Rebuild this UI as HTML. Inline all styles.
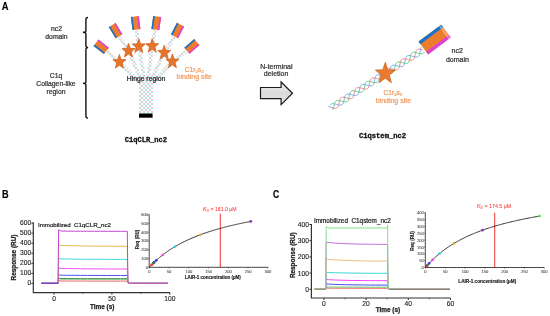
<!DOCTYPE html>
<html><head><meta charset="utf-8"><title>Figure</title>
<style>html,body{margin:0;padding:0;background:#fff;} body{width:550px;height:316px;overflow:hidden;} svg{display:block;filter:blur(0.3px);}</style>
</head><body>
<svg width="550" height="316" viewBox="0 0 550 316">
<text x="0" y="0" font-size="10.4" text-anchor="start" font-weight="bold" fill="#000" stroke="#000" stroke-width="0.15" font-family='"Liberation Sans", Arial, sans-serif' transform="translate(1.7,9.8) scale(0.9,1)">A</text>
<text x="56.5" y="30.9" font-size="6.8" text-anchor="middle" font-weight="normal" fill="#333" stroke="#333" stroke-width="0.22" font-family='"Liberation Sans", Arial, sans-serif' >nc2</text>
<text x="56.5" y="38.9" font-size="6.8" text-anchor="middle" font-weight="normal" fill="#333" stroke="#333" stroke-width="0.22" font-family='"Liberation Sans", Arial, sans-serif' >domain</text>
<text x="56" y="77.8" font-size="6.8" text-anchor="middle" font-weight="normal" fill="#333" stroke="#333" stroke-width="0.22" font-family='"Liberation Sans", Arial, sans-serif' >C1q</text>
<text x="56" y="86.1" font-size="6.8" text-anchor="middle" font-weight="normal" fill="#333" stroke="#333" stroke-width="0.22" font-family='"Liberation Sans", Arial, sans-serif' >Collagen-like</text>
<text x="56" y="94.4" font-size="6.8" text-anchor="middle" font-weight="normal" fill="#333" stroke="#333" stroke-width="0.22" font-family='"Liberation Sans", Arial, sans-serif' >region</text>
<path d="M88,17.5 Q85.9,17.5 85.9,19.5 L85.9,31 Q85.9,32.3 82.9,32.3 Q85.9,32.3 85.9,33.6 L85.9,45.6 Q85.9,47.6 88.1,47.6 Q85.9,47.6 85.9,49.6 L85.9,82.1 Q85.9,83.4 83.0,83.4 Q85.9,83.4 85.9,84.7 L85.9,116 Q85.9,118.1 88,118.1" fill="none" stroke="#111" stroke-width="1.4"/>
<defs>
<pattern id="col" width="4" height="4" patternUnits="userSpaceOnUse">
<rect width="4" height="4" fill="#f7fcfc"/>
<path d="M-1,-1 L5,5 M-1,3 L1,5 M3,-1 L5,1" stroke="#9cdde2" stroke-width="0.8"/>
<path d="M5,-1 L-1,5 M1,-1 L-1,1 M5,3 L3,5" stroke="#f4b4b4" stroke-width="0.7"/>
</pattern>
<linearGradient id="arrg" x1="0" y1="0" x2="0" y2="1">
<stop offset="0" stop-color="#f4f4f4"/><stop offset="0.5" stop-color="#d9d9d9"/><stop offset="1" stop-color="#ececec"/>
</linearGradient>
</defs>
<path d="M106.3,50.8 L119.4,62.0 L141.0,84 L141.0,113" fill="none" stroke="url(#col)" stroke-width="3.6" stroke-linecap="butt" stroke-linejoin="round"/>
<path d="M118.9,36.2 L128.5,50.9 L143.1,84 L143.1,113" fill="none" stroke="url(#col)" stroke-width="3.6" stroke-linecap="butt" stroke-linejoin="round"/>
<path d="M136.4,29.5 L138.8,46.4 L145.2,84 L145.2,113" fill="none" stroke="url(#col)" stroke-width="3.6" stroke-linecap="butt" stroke-linejoin="round"/>
<path d="M155.3,29.5 L152.2,46.1 L147.3,84 L147.3,113" fill="none" stroke="url(#col)" stroke-width="3.6" stroke-linecap="butt" stroke-linejoin="round"/>
<path d="M174.5,36.3 L164.2,52.8 L149.4,84 L149.4,113" fill="none" stroke="url(#col)" stroke-width="3.6" stroke-linecap="butt" stroke-linejoin="round"/>
<path d="M187.0,50.7 L172.4,61.6 L151.5,84 L151.5,113" fill="none" stroke="url(#col)" stroke-width="3.6" stroke-linecap="butt" stroke-linejoin="round"/>
<rect x="139.2" y="84" width="13.6" height="29.5" fill="url(#col)"/>
<rect x="139" y="113.5" width="13.6" height="4.2" fill="#000"/>
<g transform="translate(101.2,46.8) rotate(-52)"><rect x="-4" y="-6.6" width="8" height="13.2" fill="#EE7D2B"/><rect x="-4" y="-6.6" width="1.7" height="13.2" fill="#1A73C9"/><rect x="2.4" y="-6.6" width="1.6" height="13.2" fill="#E040D8"/></g>
<g transform="translate(115.6,30.65) rotate(-31)"><rect x="-4" y="-6.6" width="8" height="13.2" fill="#EE7D2B"/><rect x="-4" y="-6.6" width="1.7" height="13.2" fill="#1A73C9"/><rect x="2.4" y="-6.6" width="1.6" height="13.2" fill="#E040D8"/></g>
<g transform="translate(135.65,23.0) rotate(-7)"><rect x="-4" y="-6.6" width="8" height="13.2" fill="#EE7D2B"/><rect x="-4" y="-6.6" width="1.7" height="13.2" fill="#1A73C9"/><rect x="2.4" y="-6.6" width="1.6" height="13.2" fill="#E040D8"/></g>
<g transform="translate(156.25,23.1) rotate(8)"><rect x="-4" y="-6.6" width="8" height="13.2" fill="#EE7D2B"/><rect x="-4" y="-6.6" width="1.7" height="13.2" fill="#1A73C9"/><rect x="2.4" y="-6.6" width="1.6" height="13.2" fill="#E040D8"/></g>
<g transform="translate(177.5,30.5) rotate(27)"><rect x="-4" y="-6.6" width="8" height="13.2" fill="#EE7D2B"/><rect x="-4" y="-6.6" width="1.7" height="13.2" fill="#1A73C9"/><rect x="2.4" y="-6.6" width="1.6" height="13.2" fill="#E040D8"/></g>
<g transform="translate(191.9,46.4) rotate(49)"><rect x="-4" y="-6.6" width="8" height="13.2" fill="#EE7D2B"/><rect x="-4" y="-6.6" width="1.7" height="13.2" fill="#1A73C9"/><rect x="2.4" y="-6.6" width="1.6" height="13.2" fill="#E040D8"/></g>
<polygon points="0.00,-7.60 1.88,-2.58 7.23,-2.35 3.04,0.99 4.47,6.15 0.00,3.19 -4.47,6.15 -3.04,0.99 -7.23,-2.35 -1.88,-2.58" fill="#E8732A" stroke="#C55A11" stroke-width="0.7" stroke-linejoin="miter" transform="translate(119.4,62) scale(0.9,1)"/>
<polygon points="0.00,-7.60 1.88,-2.58 7.23,-2.35 3.04,0.99 4.47,6.15 0.00,3.19 -4.47,6.15 -3.04,0.99 -7.23,-2.35 -1.88,-2.58" fill="#E8732A" stroke="#C55A11" stroke-width="0.7" stroke-linejoin="miter" transform="translate(128.5,50.9) scale(0.9,1)"/>
<polygon points="0.00,-7.60 1.88,-2.58 7.23,-2.35 3.04,0.99 4.47,6.15 0.00,3.19 -4.47,6.15 -3.04,0.99 -7.23,-2.35 -1.88,-2.58" fill="#E8732A" stroke="#C55A11" stroke-width="0.7" stroke-linejoin="miter" transform="translate(138.8,46.4) scale(0.9,1)"/>
<polygon points="0.00,-7.60 1.88,-2.58 7.23,-2.35 3.04,0.99 4.47,6.15 0.00,3.19 -4.47,6.15 -3.04,0.99 -7.23,-2.35 -1.88,-2.58" fill="#E8732A" stroke="#C55A11" stroke-width="0.7" stroke-linejoin="miter" transform="translate(152.2,46.1) scale(0.9,1)"/>
<polygon points="0.00,-7.60 1.88,-2.58 7.23,-2.35 3.04,0.99 4.47,6.15 0.00,3.19 -4.47,6.15 -3.04,0.99 -7.23,-2.35 -1.88,-2.58" fill="#E8732A" stroke="#C55A11" stroke-width="0.7" stroke-linejoin="miter" transform="translate(164.2,52.8) scale(0.9,1)"/>
<polygon points="0.00,-7.60 1.88,-2.58 7.23,-2.35 3.04,0.99 4.47,6.15 0.00,3.19 -4.47,6.15 -3.04,0.99 -7.23,-2.35 -1.88,-2.58" fill="#E8732A" stroke="#C55A11" stroke-width="0.7" stroke-linejoin="miter" transform="translate(172.4,61.6) scale(0.9,1)"/>
<text x="146.0" y="80.8" font-size="6.8" text-anchor="middle" font-weight="normal" fill="#222" stroke="#222" stroke-width="0.22" font-family='"Liberation Sans", Arial, sans-serif' >Hinge region</text>
<text x="194.2" y="71.9" font-size="6.6" text-anchor="middle" font-weight="normal" fill="#F09B5E" stroke="#F09B5E" stroke-width="0.22" font-family='"Liberation Sans", Arial, sans-serif' >C1r<tspan font-size="4.3" dy="0.9">2</tspan><tspan dy="-0.9">s</tspan><tspan font-size="4.3" dy="0.9">2</tspan></text>
<text x="194.2" y="79.4" font-size="7" text-anchor="middle" font-weight="normal" fill="#F09B5E" stroke="#F09B5E" stroke-width="0.22" font-family='"Liberation Sans", Arial, sans-serif' >binding site</text>
<text x="145.9" y="142.1" font-size="7.05" text-anchor="middle" font-weight="bold" fill="#111" stroke="#111" stroke-width="0.3" font-family='"Liberation Mono", monospace' >C1qCLR_nc2</text>
<text x="276.4" y="68.5" font-size="7.0" text-anchor="middle" font-weight="normal" fill="#333" stroke="#333" stroke-width="0.22" font-family='"Liberation Sans", Arial, sans-serif' >N-terminal</text>
<text x="276.1" y="75.8" font-size="7.0" text-anchor="middle" font-weight="normal" fill="#333" stroke="#333" stroke-width="0.22" font-family='"Liberation Sans", Arial, sans-serif' >deletion</text>
<path d="M260.5,87.5 L281.1,87.5 L281.1,82 L292.5,93.2 L281.1,104.6 L281.1,98.7 L260.5,98.7 Z" fill="url(#arrg)" stroke="#1a1a1a" stroke-width="1.2" stroke-linejoin="miter"/>
<polyline points="331.50,107.60 332.15,107.78 332.79,107.96 333.42,108.11 334.03,108.23 334.62,108.31 335.17,108.34 335.70,108.32 336.18,108.24 336.62,108.10 337.02,107.89 337.38,107.62 337.70,107.27 337.98,106.87 338.22,106.40 338.42,105.88 338.60,105.32 338.75,104.71 338.88,104.07 339.00,103.42 339.11,102.75 339.22,102.09 339.34,101.43 339.48,100.80 339.63,100.20 339.81,99.64 340.02,99.12 340.26,98.66 340.54,98.26 340.86,97.93 341.23,97.66 341.63,97.46 342.08,97.32 342.57,97.25 343.09,97.23 343.65,97.27 344.24,97.36 344.85,97.48 345.48,97.64 346.13,97.81 346.78,97.99 347.43,98.18 348.07,98.35 348.70,98.50 349.31,98.61 349.89,98.69 350.44,98.72 350.96,98.69 351.44,98.61 351.88,98.46 352.27,98.24 352.63,97.96 352.94,97.61 353.21,97.20 353.45,96.72 353.65,96.20 353.82,95.63 353.97,95.02 354.10,94.38 354.22,93.72 354.33,93.06 354.45,92.39 354.57,91.74 354.70,91.11 354.86,90.51 355.04,89.96 355.25,89.45 355.50,88.99 355.78,88.60 356.11,88.27 356.48,88.01 356.89,87.81 357.34,87.68 357.83,87.62 358.36,87.61 358.92,87.65 359.51,87.74 360.13,87.87 360.76,88.03 361.41,88.20 362.06,88.39 362.70,88.57 363.35,88.74 363.97,88.88 364.58,89.00 365.16,89.07 365.71,89.09 366.22,89.06 366.70,88.97 367.13,88.81 367.52,88.59 367.87,88.30 368.18,87.94 368.45,87.52 368.68,87.05 368.88,86.52 369.05,85.94 369.20,85.33 369.33,84.69 369.44,84.03 369.56,83.36 369.67,82.70 369.79,82.05 369.93,81.42 370.09,80.83 370.27,80.28 370.49,79.77 370.74,79.33 371.03,78.94 371.36,78.62 371.73,78.36 372.14,78.17 372.60,78.05 373.09,77.99 373.63,77.99 374.19,78.04 374.79,78.13 375.40,78.26 376.04,78.42 376.68,78.60 377.33,78.78 377.98,78.96 378.62,79.13 379.25,79.27 379.85,79.38 380.43,79.45 380.97,79.47 381.48,79.43 381.95,79.33 382.38,79.17 382.77,78.94 383.12,78.64 383.42,78.28 383.69,77.85 383.91,77.37 384.11,76.84 384.28,76.26 384.42,75.64 384.55,75.00 384.67,74.34 384.78,73.67 384.89,73.01 385.02,72.36 385.15,71.74 385.31,71.14 385.50,70.60 385.72,70.10 385.98,69.66 386.27,69.28 386.60,68.96 386.98,68.71 387.40,68.53 387.86,68.41 388.36,68.36 388.89,68.36 389.46,68.42 390.06,68.52 390.68,68.65 391.31,68.81 391.96,68.99 392.61,69.18 393.26,69.36 393.90,69.52 394.52,69.66 395.12,69.77 395.69,69.83 396.24,69.84 396.74,69.80 397.21,69.69 397.64,69.52 398.02,69.29 398.36,68.98 398.66,68.61 398.92,68.18 399.15,67.69 399.34,67.15 399.50,66.57 399.65,65.95 399.77,65.30 399.89,64.64 400.00,63.98 400.11,63.31 400.24,62.67 400.38,62.05 400.54,61.46 400.73,60.92 400.96,60.43 401.21,59.99 401.51,59.62 401.85,59.31 402.23,59.07 402.65,58.89 403.12,58.78 403.62,58.73 404.16,58.74 404.73,58.80 405.33,58.91 405.95,59.04 406.59,59.21 407.24,59.39 407.89,59.57 408.54,59.75 409.17,59.91 409.79,60.05 410.39,60.15 410.96,60.21 411.50,60.22 412.00,60.17 412.47,60.05 412.89,59.88 413.27,59.63 413.60,59.32 413.90,58.94 414.16,58.51 414.38,58.01 414.57,57.47 414.73,56.88 414.87,56.26 414.99,55.61 415.11,54.95 415.22,54.28 415.34,53.62 415.46,52.98 415.61,52.36 415.77,51.78 415.97,51.24 416.19,50.75 416.45,50.32 416.76,49.96 417.10,49.66 417.48,49.42 417.91,49.25 418.38,49.15 418.89,49.11 419.43,49.12 420.01,49.19 420.61,49.29 421.23,49.43 421.87,49.60 422.52,49.78 423.17,49.96" fill="none" stroke="#F07A7A" stroke-width="1.0"/>
<polyline points="332.98,109.94 333.21,109.46 333.41,108.93 333.57,108.35 333.72,107.73 333.85,107.09 333.96,106.43 334.07,105.76 334.19,105.10 334.31,104.45 334.45,103.83 334.61,103.24 334.80,102.69 335.02,102.19 335.27,101.75 335.56,101.37 335.90,101.05 336.27,100.80 336.69,100.62 337.15,100.50 337.65,100.44 338.19,100.45 338.75,100.50 339.35,100.60 339.97,100.73 340.61,100.90 341.25,101.07 341.90,101.26 342.55,101.44 343.19,101.60 343.81,101.74 344.41,101.85 344.99,101.91 345.53,101.93 346.04,101.88 346.50,101.78 346.93,101.61 347.31,101.37 347.66,101.07 347.96,100.70 348.22,100.27 348.44,99.78 348.64,99.24 348.80,98.66 348.94,98.04 349.07,97.40 349.18,96.73 349.30,96.07 349.41,95.41 349.54,94.76 349.68,94.14 349.84,93.55 350.03,93.01 350.25,92.51 350.51,92.08 350.81,91.70 351.14,91.39 351.53,91.15 351.95,90.98 352.41,90.87 352.91,90.82 353.45,90.83 354.03,90.88 354.62,90.99 355.25,91.13 355.88,91.29 356.53,91.47 357.18,91.65 357.83,91.83 358.46,91.99 359.09,92.13 359.68,92.23 360.25,92.29 360.79,92.30 361.30,92.25 361.76,92.14 362.18,91.96 362.56,91.72 362.90,91.41 363.20,91.03 363.45,90.60 363.67,90.10 363.86,89.56 364.03,88.97 364.17,88.35 364.29,87.70 364.41,87.04 364.52,86.37 364.63,85.71 364.76,85.07 364.90,84.45 365.07,83.87 365.26,83.33 365.49,82.84 365.75,82.41 366.05,82.04 366.39,81.74 366.78,81.51 367.20,81.34 367.67,81.23 368.18,81.19 368.72,81.20 369.30,81.27 369.90,81.38 370.52,81.52 371.16,81.68 371.81,81.86 372.46,82.05 373.10,82.22 373.74,82.38 374.36,82.52 374.95,82.62 375.52,82.67 376.06,82.67 376.56,82.62 377.02,82.50 377.43,82.31 377.81,82.06 378.14,81.75 378.43,81.37 378.69,80.92 378.91,80.42 379.09,79.87 379.25,79.28 379.39,78.66 379.51,78.01 379.63,77.35 379.74,76.68 379.86,76.02 379.98,75.38 380.13,74.76 380.30,74.18 380.49,73.65 380.72,73.17 380.99,72.75 381.29,72.38 381.64,72.09 382.03,71.86 382.46,71.70 382.93,71.60 383.44,71.56 383.99,71.58 384.57,71.65 385.17,71.76 385.80,71.91 386.44,72.07 387.09,72.26 387.74,72.44 388.38,72.62 389.02,72.77 389.63,72.91 390.23,73.00 390.79,73.05 391.32,73.04 391.82,72.98 392.27,72.86 392.68,72.67 393.06,72.41 393.38,72.09 393.67,71.70 393.92,71.25 394.14,70.74 394.32,70.19 394.48,69.60 394.61,68.97 394.74,68.32 394.85,67.65 394.96,66.99 395.08,66.33 395.21,65.69 395.36,65.08 395.53,64.50 395.73,63.97 395.96,63.50 396.23,63.08 396.54,62.73 396.89,62.44 397.28,62.22 397.72,62.06 398.20,61.97 398.71,61.94 399.26,61.96 399.84,62.04 400.45,62.15 401.07,62.30 401.71,62.47 402.36,62.65 403.01,62.83 403.66,63.01 404.29,63.16 404.91,63.29 405.50,63.38 406.06,63.42 406.59,63.42 407.08,63.35 407.53,63.22 407.94,63.02 408.30,62.75 408.63,62.42 408.91,62.03 409.16,61.57 409.37,61.06 409.55,60.51 409.70,59.91 409.84,59.28 409.96,58.62 410.07,57.96 410.19,57.29 410.30,56.64 410.43,56.00 410.58,55.39 410.76,54.82 410.96,54.30 411.20,53.83 411.47,53.42 411.78,53.07 412.14,52.79 412.54,52.57 412.98,52.42 413.46,52.34 413.98,52.31 414.53,52.34 415.11,52.42 415.72,52.54 416.35,52.69 416.99,52.86 417.64,53.04 418.29,53.23 418.93,53.40 419.57,53.55 420.18,53.68 420.77,53.76 421.32,53.80 421.85,53.79 422.33,53.71 422.78,53.57 423.19,53.37 423.55,53.10 423.87,52.76 424.15,52.36 424.39,51.90" fill="none" stroke="#5EC47E" stroke-width="1.0"/>
<polyline points="330.02,105.26 330.28,104.83 330.59,104.47 330.93,104.18 331.32,103.95 331.75,103.78 332.23,103.68 332.74,103.65 333.28,103.67 333.86,103.73 334.46,103.85 335.09,103.99 335.73,104.16 336.38,104.34 337.03,104.52 337.67,104.70 338.31,104.86 338.92,104.99 339.52,105.08 340.08,105.13 340.61,105.13 341.11,105.07 341.56,104.94 341.98,104.75 342.35,104.50 342.68,104.17 342.97,103.79 343.22,103.34 343.43,102.83 343.62,102.28 343.77,101.69 343.91,101.06 344.03,100.41 344.15,99.74 344.26,99.08 344.38,98.42 344.51,97.78 344.65,97.17 344.82,96.59 345.02,96.06 345.25,95.59 345.52,95.17 345.83,94.81 346.18,94.52 346.58,94.30 347.01,94.15 347.49,94.05 348.00,94.02 348.55,94.05 349.13,94.12 349.74,94.23 350.36,94.38 351.00,94.55 351.65,94.73 352.30,94.91 352.95,95.09 353.58,95.25 354.20,95.37 354.79,95.46 355.35,95.51 355.88,95.50 356.37,95.43 356.82,95.30 357.23,95.10 357.60,94.84 357.92,94.51 358.21,94.12 358.45,93.66 358.66,93.15 358.85,92.60 359.00,92.00 359.14,91.37 359.26,90.71 359.37,90.05 359.48,89.38 359.60,88.73 359.73,88.09 359.88,87.48 360.05,86.91 360.25,86.39 360.49,85.92 360.76,85.50 361.08,85.16 361.43,84.87 361.83,84.66 362.27,84.51 362.75,84.42 363.27,84.40 363.82,84.43 364.40,84.50 365.01,84.62 365.64,84.77 366.28,84.94 366.93,85.12 367.58,85.31 368.23,85.48 368.86,85.64 369.47,85.76 370.06,85.85 370.62,85.88 371.14,85.87 371.63,85.80 372.07,85.66 372.48,85.46 372.84,85.18 373.16,84.85 373.44,84.45 373.69,83.99 373.89,83.47 374.07,82.91 374.23,82.31 374.36,81.68 374.48,81.02 374.59,80.36 374.70,79.69 374.82,79.03 374.96,78.40 375.11,77.79 375.28,77.23 375.49,76.71 375.73,76.24 376.01,75.84 376.32,75.50 376.68,75.22 377.08,75.01 377.53,74.87 378.01,74.79 378.53,74.77 379.09,74.81 379.68,74.89 380.29,75.01 380.92,75.16 381.56,75.34 382.21,75.52 382.86,75.70 383.50,75.87 384.13,76.03 384.74,76.15 385.33,76.23 385.88,76.26 386.40,76.24 386.89,76.16 387.33,76.02 387.73,75.81 388.09,75.53 388.40,75.18 388.68,74.78 388.92,74.31 389.13,73.79 389.30,73.22 389.45,72.62 389.58,71.98 389.70,71.33 389.81,70.66 389.93,70.00 390.05,69.34 390.18,68.71 390.33,68.11 390.51,67.55 390.72,67.03 390.97,66.57 391.25,66.18 391.57,65.84 391.93,65.57 392.34,65.37 392.79,65.23 393.27,65.16 393.80,65.15 394.36,65.19 394.95,65.28 395.56,65.40 396.19,65.56 396.84,65.73 397.49,65.91 398.14,66.10 398.78,66.27 399.41,66.41 400.01,66.53 400.60,66.61 401.15,66.64 401.67,66.61 402.14,66.52 402.58,66.37 402.98,66.15 403.33,65.87 403.65,65.52 403.92,65.11 404.15,64.64 404.36,64.11 404.53,63.54 404.68,62.93 404.81,62.29 404.92,61.63 405.04,60.97 405.15,60.30 405.27,59.65 405.41,59.02 405.56,58.42 405.74,57.87 405.96,57.36 406.20,56.91 406.49,56.51 406.82,56.19 407.18,55.92 407.59,55.73 408.05,55.60 408.54,55.53 409.07,55.53 409.63,55.57 410.22,55.66 410.84,55.79 411.47,55.95 412.12,56.12 412.77,56.31 413.41,56.49 414.05,56.66 414.68,56.80 415.29,56.92 415.87,56.99 416.41,57.01 416.93,56.98 417.40,56.89 417.84,56.73 418.23,56.50 418.58,56.21 418.89,55.86 419.15,55.44 419.39,54.96 419.58,54.43 419.75,53.85 419.90,53.24 420.03,52.60 420.15,51.94 420.26,51.27 420.37,50.61 420.49,49.96 420.63,49.33 420.79,48.74 420.97,48.19 421.19,47.68 421.44,47.24" fill="none" stroke="#6EA6E0" stroke-width="1.0"/>
<polyline points="333.5,108.2 330.5,106.9 328.4,106.4" fill="none" stroke="#7FB2E5" stroke-width="1"/>
<g transform="translate(434.6,39.6) rotate(-36.6)"><rect x="-14.1" y="-8" width="28.2" height="16" fill="#EE7D2B"/><rect x="-14.1" y="-8" width="28.2" height="3.2" fill="#1A73C9"/><rect x="-14.1" y="4.6" width="28.2" height="3.4" fill="#E040D8"/><rect x="11.4" y="-8" width="2.0" height="16" fill="#fff" opacity="0.35"/></g>
<polygon points="0.00,-11.30 2.72,-3.75 10.75,-3.49 4.41,1.43 6.64,9.14 0.00,4.63 -6.64,9.14 -4.41,1.43 -10.75,-3.49 -2.72,-3.75" fill="#EB7A2C" stroke="#C55A11" stroke-width="0.7" stroke-linejoin="miter" transform="translate(385.3,73.6) scale(0.92,1)"/>
<text x="392.9" y="94.7" font-size="6.6" text-anchor="middle" font-weight="normal" fill="#F09B5E" stroke="#F09B5E" stroke-width="0.22" font-family='"Liberation Sans", Arial, sans-serif' >C1r<tspan font-size="4.3" dy="0.9">2</tspan><tspan dy="-0.9">s</tspan><tspan font-size="4.3" dy="0.9">2</tspan></text>
<text x="393.4" y="102.5" font-size="7" text-anchor="middle" font-weight="normal" fill="#F09B5E" stroke="#F09B5E" stroke-width="0.22" font-family='"Liberation Sans", Arial, sans-serif' >binding site</text>
<text x="457.2" y="53.3" font-size="7.0" text-anchor="middle" font-weight="normal" fill="#333" stroke="#333" stroke-width="0.22" font-family='"Liberation Sans", Arial, sans-serif' >nc2</text>
<text x="457.4" y="61.6" font-size="7.0" text-anchor="middle" font-weight="normal" fill="#333" stroke="#333" stroke-width="0.22" font-family='"Liberation Sans", Arial, sans-serif' >domain</text>
<text x="382.5" y="138.2" font-size="7.15" text-anchor="middle" font-weight="bold" fill="#111" stroke="#111" stroke-width="0.3" font-family='"Liberation Mono", monospace' >C1qstem_nc2</text>
<text x="0" y="0" font-size="10.4" text-anchor="start" font-weight="bold" fill="#000" stroke="#000" stroke-width="0.15" font-family='"Liberation Sans", Arial, sans-serif' transform="translate(1.9,198.3) scale(0.88,1)">B</text>
<text x="0" y="0" font-size="10.4" text-anchor="start" font-weight="bold" fill="#000" stroke="#000" stroke-width="0.15" font-family='"Liberation Sans", Arial, sans-serif' transform="translate(273.0,198.3) scale(0.83,1)">C</text>
<path d="M33.3,222.3 L33.3,292.6 L170,292.6" fill="none" stroke="#333" stroke-width="1.2"/>
<line x1="31.299999999999997" y1="283.40" x2="33.3" y2="283.40" stroke="#333" stroke-width="1"/>
<text x="31.2" y="285.20" font-size="6.7" text-anchor="end" font-weight="normal" fill="#222" stroke="#222" stroke-width="0.12" font-family='"Liberation Sans", Arial, sans-serif' >0</text>
<line x1="31.299999999999997" y1="273.35" x2="33.3" y2="273.35" stroke="#333" stroke-width="1"/>
<text x="31.2" y="275.15" font-size="6.7" text-anchor="end" font-weight="normal" fill="#222" stroke="#222" stroke-width="0.12" font-family='"Liberation Sans", Arial, sans-serif' >100</text>
<line x1="31.299999999999997" y1="263.30" x2="33.3" y2="263.30" stroke="#333" stroke-width="1"/>
<text x="31.2" y="265.10" font-size="6.7" text-anchor="end" font-weight="normal" fill="#222" stroke="#222" stroke-width="0.12" font-family='"Liberation Sans", Arial, sans-serif' >200</text>
<line x1="31.299999999999997" y1="253.25" x2="33.3" y2="253.25" stroke="#333" stroke-width="1"/>
<text x="31.2" y="255.05" font-size="6.7" text-anchor="end" font-weight="normal" fill="#222" stroke="#222" stroke-width="0.12" font-family='"Liberation Sans", Arial, sans-serif' >300</text>
<line x1="31.299999999999997" y1="243.20" x2="33.3" y2="243.20" stroke="#333" stroke-width="1"/>
<text x="31.2" y="245.00" font-size="6.7" text-anchor="end" font-weight="normal" fill="#222" stroke="#222" stroke-width="0.12" font-family='"Liberation Sans", Arial, sans-serif' >400</text>
<line x1="31.299999999999997" y1="233.15" x2="33.3" y2="233.15" stroke="#333" stroke-width="1"/>
<text x="31.2" y="234.95" font-size="6.7" text-anchor="end" font-weight="normal" fill="#222" stroke="#222" stroke-width="0.12" font-family='"Liberation Sans", Arial, sans-serif' >500</text>
<line x1="31.299999999999997" y1="223.10" x2="33.3" y2="223.10" stroke="#333" stroke-width="1"/>
<text x="31.2" y="224.90" font-size="6.7" text-anchor="end" font-weight="normal" fill="#222" stroke="#222" stroke-width="0.12" font-family='"Liberation Sans", Arial, sans-serif' >600</text>
<line x1="54.00" y1="292.6" x2="54.00" y2="294.6" stroke="#333" stroke-width="1"/>
<line x1="111.90" y1="292.6" x2="111.90" y2="294.6" stroke="#333" stroke-width="1"/>
<line x1="169.80" y1="292.6" x2="169.80" y2="294.6" stroke="#333" stroke-width="1"/>
<line x1="82.95" y1="292.6" x2="82.95" y2="293.8" stroke="#333" stroke-width="0.8"/>
<line x1="140.85" y1="292.6" x2="140.85" y2="293.8" stroke="#333" stroke-width="0.8"/>
<text x="54.00" y="300.9" font-size="6.7" text-anchor="middle" font-weight="normal" fill="#222" stroke="#222" stroke-width="0.12" font-family='"Liberation Sans", Arial, sans-serif' >0</text>
<text x="111.90" y="300.9" font-size="6.7" text-anchor="middle" font-weight="normal" fill="#222" stroke="#222" stroke-width="0.12" font-family='"Liberation Sans", Arial, sans-serif' >50</text>
<text x="169.80" y="300.9" font-size="6.7" text-anchor="middle" font-weight="normal" fill="#222" stroke="#222" stroke-width="0.12" font-family='"Liberation Sans", Arial, sans-serif' >100</text>
<text x="102.2" y="309.4" font-size="6.4" text-anchor="middle" font-weight="bold" fill="#222" stroke="#222" stroke-width="0.25" font-family='"Liberation Sans", Arial, sans-serif' >Time (s)</text>
<text x="0" y="0" font-size="6.4" text-anchor="middle" font-weight="bold" fill="#222" stroke="#222" stroke-width="0.25" font-family='"Liberation Sans", Arial, sans-serif' transform="translate(15.9,257.5) rotate(-90)">Response (RU)</text>
<text x="38.0" y="227.2" font-size="6.13" text-anchor="start" font-weight="normal" fill="#222" stroke="#222" stroke-width="0.22" font-family='"Liberation Sans", Arial, sans-serif' >Immobilized&#160; C1qCLR_nc2</text>
<polyline points="41.40,283.30 58.10,283.30 58.60,280.40 60.90,281.00 67.54,281.03 74.18,281.05 80.82,281.06 87.46,281.07 94.10,281.08 100.74,281.09 107.38,281.09 114.02,281.10 120.66,281.10 127.30,281.10 127.90,282.50 130.10,283.30 167.80,283.30" fill="none" stroke="#F06464" stroke-width="1.0" stroke-linejoin="round"/>
<polyline points="41.40,283.30 58.10,283.30 58.60,278.70 60.90,279.30 67.54,279.33 74.18,279.35 80.82,279.36 87.46,279.37 94.10,279.38 100.74,279.39 107.38,279.39 114.02,279.40 120.66,279.40 127.30,279.40 127.90,282.50 130.10,283.30 167.80,283.30" fill="none" stroke="#92CC92" stroke-width="1.0" stroke-linejoin="round"/>
<polyline points="41.40,283.30 58.10,283.30 58.60,277.90 60.90,278.50 67.54,278.55 74.18,278.59 80.82,278.62 87.46,278.65 94.10,278.66 100.74,278.68 107.38,278.68 114.02,278.69 120.66,278.70 127.30,278.70 127.90,282.50 130.10,283.30 167.80,283.30" fill="none" stroke="#3F8F4F" stroke-width="1.0" stroke-linejoin="round"/>
<polyline points="41.40,283.30 58.10,283.30 58.60,274.60 60.90,275.20 67.54,275.28 74.18,275.34 80.82,275.39 87.46,275.42 94.10,275.45 100.74,275.46 107.38,275.48 114.02,275.49 120.66,275.49 127.30,275.50 127.90,282.50 130.10,283.30 167.80,283.30" fill="none" stroke="#5050F0" stroke-width="1.0" stroke-linejoin="round"/>
<polyline points="41.40,283.30 58.10,283.30 58.60,267.80 60.90,268.40 67.54,268.56 74.18,268.68 80.82,268.77 87.46,268.84 94.10,268.89 100.74,268.93 107.38,268.95 114.02,268.97 120.66,268.99 127.30,269.00 127.90,282.50 130.10,283.30 167.80,283.30" fill="none" stroke="#F050F0" stroke-width="1.0" stroke-linejoin="round"/>
<polyline points="41.40,283.30 58.10,283.30 58.60,258.30 60.90,258.90 67.54,259.04 74.18,259.14 80.82,259.21 87.46,259.27 94.10,259.31 100.74,259.34 107.38,259.36 114.02,259.38 120.66,259.39 127.30,259.40 127.90,282.50 130.10,283.30 167.80,283.30" fill="none" stroke="#40D8DE" stroke-width="1.0" stroke-linejoin="round"/>
<polyline points="41.40,283.30 58.10,283.30 58.60,244.80 60.90,245.40 67.54,245.65 74.18,245.83 80.82,245.96 87.46,246.06 94.10,246.14 100.74,246.19 107.38,246.23 114.02,246.26 120.66,246.28 127.30,246.30 127.90,282.50 130.10,283.30 167.80,283.30" fill="none" stroke="#E9B84A" stroke-width="1.0" stroke-linejoin="round"/>
<polyline points="41.40,283.30 58.10,283.30 58.60,229.80 60.90,231.10 67.54,231.15 74.18,231.19 80.82,231.22 87.46,231.25 94.10,231.26 100.74,231.28 107.38,231.28 114.02,231.29 120.66,231.30 127.30,231.30 127.90,282.50 130.10,283.30 167.80,283.30" fill="none" stroke="#C048D0" stroke-width="1.0" stroke-linejoin="round"/>
<polyline points="41.40,283.30 58.20,283.30" fill="none" stroke="#7A3FC4" stroke-width="1.1" stroke-linejoin="round"/>
<path d="M149.2,214.4 L149.2,267.3 L268.2,267.3" fill="none" stroke="#333" stroke-width="0.9"/>
<line x1="148" y1="267.30" x2="149.2" y2="267.30" stroke="#333" stroke-width="0.6"/>
<text x="148.1" y="268.80" font-size="4.1" text-anchor="end" font-weight="normal" fill="#555" stroke="#555" stroke-width="0.1" font-family='"Liberation Sans", Arial, sans-serif' >0</text>
<line x1="148" y1="258.53" x2="149.2" y2="258.53" stroke="#333" stroke-width="0.6"/>
<text x="148.1" y="260.03" font-size="4.1" text-anchor="end" font-weight="normal" fill="#555" stroke="#555" stroke-width="0.1" font-family='"Liberation Sans", Arial, sans-serif' >100</text>
<line x1="148" y1="249.76" x2="149.2" y2="249.76" stroke="#333" stroke-width="0.6"/>
<text x="148.1" y="251.26" font-size="4.1" text-anchor="end" font-weight="normal" fill="#555" stroke="#555" stroke-width="0.1" font-family='"Liberation Sans", Arial, sans-serif' >200</text>
<line x1="148" y1="240.99" x2="149.2" y2="240.99" stroke="#333" stroke-width="0.6"/>
<text x="148.1" y="242.49" font-size="4.1" text-anchor="end" font-weight="normal" fill="#555" stroke="#555" stroke-width="0.1" font-family='"Liberation Sans", Arial, sans-serif' >300</text>
<line x1="148" y1="232.22" x2="149.2" y2="232.22" stroke="#333" stroke-width="0.6"/>
<text x="148.1" y="233.72" font-size="4.1" text-anchor="end" font-weight="normal" fill="#555" stroke="#555" stroke-width="0.1" font-family='"Liberation Sans", Arial, sans-serif' >400</text>
<line x1="148" y1="223.45" x2="149.2" y2="223.45" stroke="#333" stroke-width="0.6"/>
<text x="148.1" y="224.95" font-size="4.1" text-anchor="end" font-weight="normal" fill="#555" stroke="#555" stroke-width="0.1" font-family='"Liberation Sans", Arial, sans-serif' >500</text>
<line x1="148" y1="214.68" x2="149.2" y2="214.68" stroke="#333" stroke-width="0.6"/>
<text x="148.1" y="216.18" font-size="4.1" text-anchor="end" font-weight="normal" fill="#555" stroke="#555" stroke-width="0.1" font-family='"Liberation Sans", Arial, sans-serif' >600</text>
<line x1="149.30" y1="267.3" x2="149.30" y2="268.5" stroke="#333" stroke-width="0.6"/>
<text x="149.30" y="272.8" font-size="4.1" text-anchor="middle" font-weight="normal" fill="#555" stroke="#555" stroke-width="0.1" font-family='"Liberation Sans", Arial, sans-serif' >0</text>
<line x1="169.05" y1="267.3" x2="169.05" y2="268.5" stroke="#333" stroke-width="0.6"/>
<text x="169.05" y="272.8" font-size="4.1" text-anchor="middle" font-weight="normal" fill="#555" stroke="#555" stroke-width="0.1" font-family='"Liberation Sans", Arial, sans-serif' >50</text>
<line x1="188.80" y1="267.3" x2="188.80" y2="268.5" stroke="#333" stroke-width="0.6"/>
<text x="188.80" y="272.8" font-size="4.1" text-anchor="middle" font-weight="normal" fill="#555" stroke="#555" stroke-width="0.1" font-family='"Liberation Sans", Arial, sans-serif' >100</text>
<line x1="208.55" y1="267.3" x2="208.55" y2="268.5" stroke="#333" stroke-width="0.6"/>
<text x="208.55" y="272.8" font-size="4.1" text-anchor="middle" font-weight="normal" fill="#555" stroke="#555" stroke-width="0.1" font-family='"Liberation Sans", Arial, sans-serif' >150</text>
<line x1="228.30" y1="267.3" x2="228.30" y2="268.5" stroke="#333" stroke-width="0.6"/>
<text x="228.30" y="272.8" font-size="4.1" text-anchor="middle" font-weight="normal" fill="#555" stroke="#555" stroke-width="0.1" font-family='"Liberation Sans", Arial, sans-serif' >200</text>
<line x1="248.05" y1="267.3" x2="248.05" y2="268.5" stroke="#333" stroke-width="0.6"/>
<text x="248.05" y="272.8" font-size="4.1" text-anchor="middle" font-weight="normal" fill="#555" stroke="#555" stroke-width="0.1" font-family='"Liberation Sans", Arial, sans-serif' >250</text>
<line x1="267.80" y1="267.3" x2="267.80" y2="268.5" stroke="#333" stroke-width="0.6"/>
<text x="267.80" y="272.8" font-size="4.1" text-anchor="middle" font-weight="normal" fill="#555" stroke="#555" stroke-width="0.1" font-family='"Liberation Sans", Arial, sans-serif' >300</text>
<line x1="159.18" y1="267.3" x2="159.18" y2="268.0" stroke="#333" stroke-width="0.5"/>
<line x1="178.93" y1="267.3" x2="178.93" y2="268.0" stroke="#333" stroke-width="0.5"/>
<line x1="198.68" y1="267.3" x2="198.68" y2="268.0" stroke="#333" stroke-width="0.5"/>
<line x1="218.43" y1="267.3" x2="218.43" y2="268.0" stroke="#333" stroke-width="0.5"/>
<line x1="238.18" y1="267.3" x2="238.18" y2="268.0" stroke="#333" stroke-width="0.5"/>
<line x1="257.93" y1="267.3" x2="257.93" y2="268.0" stroke="#333" stroke-width="0.5"/>
<text x="212.8" y="278.5" font-size="4.5" text-anchor="middle" font-weight="bold" fill="#222" stroke="#222" stroke-width="0.15" font-family='"Liberation Sans", Arial, sans-serif' >LAIR-1 concentration (µM)</text>
<text x="0" y="0" font-size="4.6" text-anchor="middle" font-weight="bold" fill="#222" stroke="#222" stroke-width="0.15" font-family='"Liberation Sans", Arial, sans-serif' transform="translate(139.1,239.5) rotate(-90)">Req (RU)</text>
<line x1="220.3" y1="213.7" x2="220.3" y2="267.3" stroke="#F03A3A" stroke-width="1.05"/>
<text x="219.8" y="210.7" font-size="5.15" text-anchor="middle" font-weight="normal" fill="#F03A3A" stroke="#F03A3A" stroke-width="0.05" font-family='"Liberation Sans", Arial, sans-serif' ><tspan font-style="italic">K</tspan><tspan font-size="3.5" dy="1.0">D</tspan><tspan dy="-1.0"> = 181.0 µM</tspan></text>
<polyline points="149.30,267.30 150.32,266.21 151.33,265.14 152.35,264.11 153.36,263.10 154.38,262.12 155.39,261.17 156.41,260.24 157.42,259.33 158.44,258.45 159.45,257.58 160.47,256.74 161.48,255.92 162.50,255.12 163.51,254.34 164.53,253.58 165.54,252.83 166.56,252.11 167.57,251.39 168.59,250.70 169.60,250.02 170.62,249.35 171.63,248.70 172.65,248.06 173.66,247.44 174.68,246.83 175.69,246.23 176.71,245.65 177.72,245.07 178.74,244.51 179.75,243.96 180.77,243.42 181.78,242.89 182.80,242.37 183.82,241.86 184.83,241.36 185.85,240.87 186.86,240.39 187.88,239.91 188.89,239.45 189.91,239.00 190.92,238.55 191.94,238.11 192.95,237.68 193.97,237.25 194.98,236.84 196.00,236.43 197.01,236.02 198.03,235.63 199.04,235.24 200.06,234.86 201.07,234.48 202.09,234.11 203.10,233.75 204.12,233.39 205.13,233.04 206.15,232.69 207.16,232.35 208.18,232.01 209.19,231.68 210.21,231.35 211.22,231.03 212.24,230.72 213.25,230.40 214.27,230.10 215.28,229.80 216.30,229.50 217.32,229.20 218.33,228.91 219.35,228.63 220.36,228.35 221.38,228.07 222.39,227.80 223.41,227.53 224.42,227.26 225.44,227.00 226.45,226.74 227.47,226.49 228.48,226.24 229.50,225.99 230.51,225.74 231.53,225.50 232.54,225.26 233.56,225.03 234.57,224.80 235.59,224.57 236.60,224.34 237.62,224.12 238.63,223.90 239.65,223.68 240.66,223.46 241.68,223.25 242.69,223.04 243.71,222.83 244.72,222.63 245.74,222.43 246.75,222.23 247.77,222.03 248.78,221.83 249.80,221.64 250.81,221.45" fill="none" stroke="#222" stroke-width="0.9" stroke-linejoin="round"/>
<circle cx="250.81" cy="221.45" r="1.4" fill="#8E2FC0"/>
<circle cx="200.26" cy="234.78" r="1.4" fill="#E8AA38"/>
<circle cx="174.98" cy="246.65" r="1.4" fill="#3DD6D6"/>
<circle cx="162.73" cy="254.94" r="1.4" fill="#F04AF0"/>
<circle cx="156.29" cy="260.34" r="1.4" fill="#3A3AF0"/>
<circle cx="154.04" cy="262.44" r="1.4" fill="#2530A8"/>
<circle cx="153.21" cy="263.25" r="1.4" fill="#2E8B3E"/>
<circle cx="151.67" cy="264.79" r="1.4" fill="#F03A3A"/>
<path d="M311.4,224.1 L311.4,298.0 L450.5,298.0" fill="none" stroke="#333" stroke-width="1.2"/>
<line x1="309.4" y1="289.30" x2="311.4" y2="289.30" stroke="#333" stroke-width="1"/>
<text x="308.9" y="291.70" font-size="6.7" text-anchor="end" font-weight="normal" fill="#222" stroke="#222" stroke-width="0.12" font-family='"Liberation Sans", Arial, sans-serif' >0</text>
<line x1="309.4" y1="273.10" x2="311.4" y2="273.10" stroke="#333" stroke-width="1"/>
<text x="308.9" y="275.50" font-size="6.7" text-anchor="end" font-weight="normal" fill="#222" stroke="#222" stroke-width="0.12" font-family='"Liberation Sans", Arial, sans-serif' >100</text>
<line x1="309.4" y1="256.90" x2="311.4" y2="256.90" stroke="#333" stroke-width="1"/>
<text x="308.9" y="259.30" font-size="6.7" text-anchor="end" font-weight="normal" fill="#222" stroke="#222" stroke-width="0.12" font-family='"Liberation Sans", Arial, sans-serif' >200</text>
<line x1="309.4" y1="240.70" x2="311.4" y2="240.70" stroke="#333" stroke-width="1"/>
<text x="308.9" y="243.10" font-size="6.7" text-anchor="end" font-weight="normal" fill="#222" stroke="#222" stroke-width="0.12" font-family='"Liberation Sans", Arial, sans-serif' >300</text>
<line x1="309.4" y1="224.50" x2="311.4" y2="224.50" stroke="#333" stroke-width="1"/>
<text x="308.9" y="226.90" font-size="6.7" text-anchor="end" font-weight="normal" fill="#222" stroke="#222" stroke-width="0.12" font-family='"Liberation Sans", Arial, sans-serif' >400</text>
<line x1="323.90" y1="298.0" x2="323.90" y2="300.0" stroke="#333" stroke-width="1"/>
<line x1="366.10" y1="298.0" x2="366.10" y2="300.0" stroke="#333" stroke-width="1"/>
<line x1="408.30" y1="298.0" x2="408.30" y2="300.0" stroke="#333" stroke-width="1"/>
<line x1="450.50" y1="298.0" x2="450.50" y2="300.0" stroke="#333" stroke-width="1"/>
<line x1="345.00" y1="298.0" x2="345.00" y2="299.2" stroke="#333" stroke-width="0.8"/>
<line x1="387.20" y1="298.0" x2="387.20" y2="299.2" stroke="#333" stroke-width="0.8"/>
<line x1="429.40" y1="298.0" x2="429.40" y2="299.2" stroke="#333" stroke-width="0.8"/>
<text x="323.90" y="305.7" font-size="6.7" text-anchor="middle" font-weight="normal" fill="#222" stroke="#222" stroke-width="0.12" font-family='"Liberation Sans", Arial, sans-serif' >0</text>
<text x="366.10" y="305.7" font-size="6.7" text-anchor="middle" font-weight="normal" fill="#222" stroke="#222" stroke-width="0.12" font-family='"Liberation Sans", Arial, sans-serif' >20</text>
<text x="408.30" y="305.7" font-size="6.7" text-anchor="middle" font-weight="normal" fill="#222" stroke="#222" stroke-width="0.12" font-family='"Liberation Sans", Arial, sans-serif' >40</text>
<text x="450.50" y="305.7" font-size="6.7" text-anchor="middle" font-weight="normal" fill="#222" stroke="#222" stroke-width="0.12" font-family='"Liberation Sans", Arial, sans-serif' >60</text>
<text x="388.0" y="311.6" font-size="6.4" text-anchor="middle" font-weight="bold" fill="#222" stroke="#222" stroke-width="0.25" font-family='"Liberation Sans", Arial, sans-serif' >Time (s)</text>
<text x="0" y="0" font-size="6.4" text-anchor="middle" font-weight="bold" fill="#222" stroke="#222" stroke-width="0.25" font-family='"Liberation Sans", Arial, sans-serif' transform="translate(294.6,255.2) rotate(-90)">Response (RU)</text>
<text x="314.0" y="222.6" font-size="6.37" text-anchor="start" font-weight="normal" fill="#222" stroke="#222" stroke-width="0.22" font-family='"Liberation Sans", Arial, sans-serif' >Immobilized&#160; C1qstem_nc2</text>
<polyline points="314.40,289.30 325.70,289.30 326.20,287.90 328.50,288.20 334.40,288.23 340.30,288.25 346.20,288.26 352.10,288.27 358.00,288.28 363.90,288.29 369.80,288.29 375.70,288.30 381.60,288.30 387.50,288.30 388.10,288.50 390.30,289.30 450.00,289.30" fill="none" stroke="#F06A6A" stroke-width="1.0" stroke-linejoin="round"/>
<polyline points="314.40,289.30 325.70,289.30 326.20,286.70 328.50,287.00 334.40,287.05 340.30,287.09 346.20,287.12 352.10,287.15 358.00,287.16 363.90,287.18 369.80,287.18 375.70,287.19 381.60,287.20 387.50,287.20 388.10,288.50 390.30,289.30 450.00,289.30" fill="none" stroke="#6CBF6C" stroke-width="1.0" stroke-linejoin="round"/>
<polyline points="314.40,289.30 325.70,289.30 326.20,283.80 328.50,284.10 334.40,284.37 340.30,284.57 346.20,284.72 352.10,284.84 358.00,284.92 363.90,284.98 369.80,285.02 375.70,285.06 381.60,285.08 387.50,285.10 388.10,288.50 390.30,289.30 450.00,289.30" fill="none" stroke="#4848F5" stroke-width="1.0" stroke-linejoin="round"/>
<polyline points="314.40,289.30 325.70,289.30 326.20,279.40 328.50,279.70 334.40,279.97 340.30,280.17 346.20,280.32 352.10,280.44 358.00,280.52 363.90,280.58 369.80,280.62 375.70,280.66 381.60,280.68 387.50,280.70 388.10,288.50 390.30,289.30 450.00,289.30" fill="none" stroke="#F04AF0" stroke-width="1.0" stroke-linejoin="round"/>
<polyline points="314.40,289.30 325.70,289.30 326.20,272.20 328.50,272.50 334.40,272.72 340.30,272.88 346.20,273.00 352.10,273.09 358.00,273.15 363.90,273.20 369.80,273.24 375.70,273.27 381.60,273.29 387.50,273.30 388.10,288.50 390.30,289.30 450.00,289.30" fill="none" stroke="#3DD6D6" stroke-width="1.0" stroke-linejoin="round"/>
<polyline points="314.40,289.30 325.70,289.30 326.20,259.10 328.50,259.40 334.40,259.86 340.30,260.21 346.20,260.46 352.10,260.65 358.00,260.79 363.90,260.89 369.80,260.97 375.70,261.03 381.60,261.07 387.50,261.10 388.10,288.50 390.30,289.30 450.00,289.30" fill="none" stroke="#E8C080" stroke-width="1.0" stroke-linejoin="round"/>
<polyline points="314.40,289.30 325.70,289.30 326.20,242.20 328.50,242.50 334.40,243.02 340.30,243.40 346.20,243.69 352.10,243.90 358.00,244.05 363.90,244.17 369.80,244.25 375.70,244.32 381.60,244.37 387.50,244.40 388.10,288.50 390.30,289.30 450.00,289.30" fill="none" stroke="#C070D8" stroke-width="1.0" stroke-linejoin="round"/>
<polyline points="314.40,289.30 325.70,289.30 326.20,226.50 328.50,228.00 334.40,228.00 340.30,228.00 346.20,228.00 352.10,228.00 358.00,228.00 363.90,228.00 369.80,228.00 375.70,228.00 381.60,228.00 387.50,228.00 387.60,225.10 388.10,288.50 390.30,289.30 450.00,289.30" fill="none" stroke="#86E086" stroke-width="1.0" stroke-linejoin="round"/>
<polyline points="314.60,289.30 325.80,289.30" fill="none" stroke="#9a9a5a" stroke-width="1.0" stroke-linejoin="round"/>
<polyline points="389.50,289.40 450.00,289.40" fill="none" stroke="#8a7a5a" stroke-width="1.0" stroke-linejoin="round"/>
<path d="M425.3,212.3 L425.3,267.5 L544.2,267.5" fill="none" stroke="#333" stroke-width="0.9"/>
<line x1="424.1" y1="267.50" x2="425.3" y2="267.50" stroke="#333" stroke-width="0.6"/>
<text x="423.8" y="269.00" font-size="4.1" text-anchor="end" font-weight="normal" fill="#555" stroke="#555" stroke-width="0.1" font-family='"Liberation Sans", Arial, sans-serif' >0</text>
<line x1="424.1" y1="260.67" x2="425.3" y2="260.67" stroke="#333" stroke-width="0.6"/>
<text x="423.8" y="262.17" font-size="4.1" text-anchor="end" font-weight="normal" fill="#555" stroke="#555" stroke-width="0.1" font-family='"Liberation Sans", Arial, sans-serif' >50</text>
<line x1="424.1" y1="253.84" x2="425.3" y2="253.84" stroke="#333" stroke-width="0.6"/>
<text x="423.8" y="255.34" font-size="4.1" text-anchor="end" font-weight="normal" fill="#555" stroke="#555" stroke-width="0.1" font-family='"Liberation Sans", Arial, sans-serif' >100</text>
<line x1="424.1" y1="247.01" x2="425.3" y2="247.01" stroke="#333" stroke-width="0.6"/>
<text x="423.8" y="248.51" font-size="4.1" text-anchor="end" font-weight="normal" fill="#555" stroke="#555" stroke-width="0.1" font-family='"Liberation Sans", Arial, sans-serif' >150</text>
<line x1="424.1" y1="240.18" x2="425.3" y2="240.18" stroke="#333" stroke-width="0.6"/>
<text x="423.8" y="241.68" font-size="4.1" text-anchor="end" font-weight="normal" fill="#555" stroke="#555" stroke-width="0.1" font-family='"Liberation Sans", Arial, sans-serif' >200</text>
<line x1="424.1" y1="233.35" x2="425.3" y2="233.35" stroke="#333" stroke-width="0.6"/>
<text x="423.8" y="234.85" font-size="4.1" text-anchor="end" font-weight="normal" fill="#555" stroke="#555" stroke-width="0.1" font-family='"Liberation Sans", Arial, sans-serif' >250</text>
<line x1="424.1" y1="226.52" x2="425.3" y2="226.52" stroke="#333" stroke-width="0.6"/>
<text x="423.8" y="228.02" font-size="4.1" text-anchor="end" font-weight="normal" fill="#555" stroke="#555" stroke-width="0.1" font-family='"Liberation Sans", Arial, sans-serif' >300</text>
<line x1="424.1" y1="219.69" x2="425.3" y2="219.69" stroke="#333" stroke-width="0.6"/>
<text x="423.8" y="221.19" font-size="4.1" text-anchor="end" font-weight="normal" fill="#555" stroke="#555" stroke-width="0.1" font-family='"Liberation Sans", Arial, sans-serif' >350</text>
<line x1="424.1" y1="212.86" x2="425.3" y2="212.86" stroke="#333" stroke-width="0.6"/>
<text x="423.8" y="214.36" font-size="4.1" text-anchor="end" font-weight="normal" fill="#555" stroke="#555" stroke-width="0.1" font-family='"Liberation Sans", Arial, sans-serif' >400</text>
<line x1="425.50" y1="267.5" x2="425.50" y2="268.7" stroke="#333" stroke-width="0.6"/>
<text x="425.50" y="273.4" font-size="4.1" text-anchor="middle" font-weight="normal" fill="#555" stroke="#555" stroke-width="0.1" font-family='"Liberation Sans", Arial, sans-serif' >0</text>
<line x1="445.29" y1="267.5" x2="445.29" y2="268.7" stroke="#333" stroke-width="0.6"/>
<text x="445.29" y="273.4" font-size="4.1" text-anchor="middle" font-weight="normal" fill="#555" stroke="#555" stroke-width="0.1" font-family='"Liberation Sans", Arial, sans-serif' >50</text>
<line x1="465.08" y1="267.5" x2="465.08" y2="268.7" stroke="#333" stroke-width="0.6"/>
<text x="465.08" y="273.4" font-size="4.1" text-anchor="middle" font-weight="normal" fill="#555" stroke="#555" stroke-width="0.1" font-family='"Liberation Sans", Arial, sans-serif' >100</text>
<line x1="484.87" y1="267.5" x2="484.87" y2="268.7" stroke="#333" stroke-width="0.6"/>
<text x="484.87" y="273.4" font-size="4.1" text-anchor="middle" font-weight="normal" fill="#555" stroke="#555" stroke-width="0.1" font-family='"Liberation Sans", Arial, sans-serif' >150</text>
<line x1="504.66" y1="267.5" x2="504.66" y2="268.7" stroke="#333" stroke-width="0.6"/>
<text x="504.66" y="273.4" font-size="4.1" text-anchor="middle" font-weight="normal" fill="#555" stroke="#555" stroke-width="0.1" font-family='"Liberation Sans", Arial, sans-serif' >200</text>
<line x1="524.45" y1="267.5" x2="524.45" y2="268.7" stroke="#333" stroke-width="0.6"/>
<text x="524.45" y="273.4" font-size="4.1" text-anchor="middle" font-weight="normal" fill="#555" stroke="#555" stroke-width="0.1" font-family='"Liberation Sans", Arial, sans-serif' >250</text>
<line x1="544.24" y1="267.5" x2="544.24" y2="268.7" stroke="#333" stroke-width="0.6"/>
<text x="544.24" y="273.4" font-size="4.1" text-anchor="middle" font-weight="normal" fill="#555" stroke="#555" stroke-width="0.1" font-family='"Liberation Sans", Arial, sans-serif' >300</text>
<line x1="435.39" y1="267.5" x2="435.39" y2="268.2" stroke="#333" stroke-width="0.5"/>
<line x1="455.19" y1="267.5" x2="455.19" y2="268.2" stroke="#333" stroke-width="0.5"/>
<line x1="474.98" y1="267.5" x2="474.98" y2="268.2" stroke="#333" stroke-width="0.5"/>
<line x1="494.76" y1="267.5" x2="494.76" y2="268.2" stroke="#333" stroke-width="0.5"/>
<line x1="514.55" y1="267.5" x2="514.55" y2="268.2" stroke="#333" stroke-width="0.5"/>
<line x1="534.35" y1="267.5" x2="534.35" y2="268.2" stroke="#333" stroke-width="0.5"/>
<text x="487.3" y="283.2" font-size="4.65" text-anchor="middle" font-weight="bold" fill="#222" stroke="#222" stroke-width="0.15" font-family='"Liberation Sans", Arial, sans-serif' >LAIR-1 concentration (µM)</text>
<text x="0" y="0" font-size="4.6" text-anchor="middle" font-weight="bold" fill="#222" stroke="#222" stroke-width="0.15" font-family='"Liberation Sans", Arial, sans-serif' transform="translate(413.6,241) rotate(-90)">Req (RU)</text>
<line x1="494.7" y1="212.8" x2="494.7" y2="267.5" stroke="#F03A3A" stroke-width="1.05"/>
<text x="494.1" y="207.6" font-size="5.3" text-anchor="middle" font-weight="normal" fill="#F03A3A" stroke="#F03A3A" stroke-width="0.05" font-family='"Liberation Sans", Arial, sans-serif' ><tspan font-style="italic">K</tspan><tspan font-size="3.5" dy="1.0">D</tspan><tspan dy="-1.0"> = 174.5 µM</tspan></text>
<polyline points="425.50,267.50 426.64,266.16 427.78,264.86 428.92,263.61 430.06,262.39 431.20,261.21 432.34,260.07 433.48,258.96 434.62,257.88 435.76,256.83 436.90,255.81 438.04,254.82 439.18,253.86 440.32,252.92 441.46,252.01 442.60,251.13 443.74,250.26 444.88,249.42 446.02,248.60 447.16,247.80 448.30,247.02 449.44,246.26 450.58,245.52 451.72,244.80 452.86,244.09 454.00,243.40 455.14,242.73 456.28,242.07 457.42,241.42 458.56,240.79 459.70,240.18 460.84,239.57 461.98,238.99 463.12,238.41 464.26,237.84 465.40,237.29 466.54,236.75 467.68,236.22 468.82,235.70 469.96,235.19 471.10,234.69 472.24,234.20 473.38,233.72 474.52,233.25 475.66,232.79 476.80,232.34 477.94,231.89 479.08,231.46 480.22,231.03 481.36,230.61 482.50,230.20 483.64,229.79 484.78,229.39 485.91,229.00 487.05,228.62 488.19,228.24 489.33,227.87 490.47,227.51 491.61,227.15 492.75,226.80 493.89,226.45 495.03,226.11 496.17,225.77 497.31,225.44 498.45,225.12 499.59,224.80 500.73,224.48 501.87,224.17 503.01,223.87 504.15,223.57 505.29,223.27 506.43,222.98 507.57,222.70 508.71,222.41 509.85,222.14 510.99,221.86 512.13,221.59 513.27,221.33 514.41,221.06 515.55,220.81 516.69,220.55 517.83,220.30 518.97,220.05 520.11,219.81 521.25,219.57 522.39,219.33 523.53,219.10 524.67,218.86 525.81,218.64 526.95,218.41 528.09,218.19 529.23,217.97 530.37,217.76 531.51,217.54 532.65,217.33 533.79,217.12 534.93,216.92 536.07,216.72 537.21,216.52 538.35,216.32 539.49,216.12" fill="none" stroke="#222" stroke-width="0.9" stroke-linejoin="round"/>
<circle cx="539.49" cy="216.12" r="1.4" fill="#5BD65B"/>
<circle cx="482.50" cy="230.20" r="1.4" fill="#8E2FC0"/>
<circle cx="454.00" cy="243.40" r="1.4" fill="#E8AA38"/>
<circle cx="439.75" cy="253.39" r="1.4" fill="#3DD6D6"/>
<circle cx="432.62" cy="259.79" r="1.4" fill="#F04AF0"/>
<circle cx="429.06" cy="263.45" r="1.4" fill="#3A3AF0"/>
<circle cx="427.28" cy="265.43" r="1.4" fill="#2E8B3E"/>
<circle cx="426.39" cy="266.45" r="1.4" fill="#C03030"/>
</svg>
</body></html>
